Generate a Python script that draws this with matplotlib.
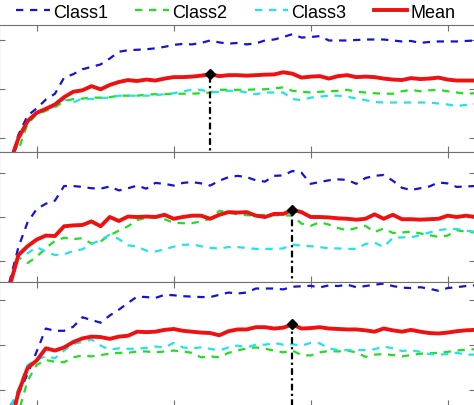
import numpy as np
import matplotlib
matplotlib.use("Agg")
import matplotlib.pyplot as plt
from matplotlib.font_manager import FontProperties

# x positions (training steps; tick labels are cropped out of the reference)
epochs = np.arange(52)
xticks = [3, 18, 33, 48]
labels = ["Class1", "Class2", "Class3", "Mean"]

# ---------------- Panel 1 ----------------
p1_class1 = [54.5, 60.6, 64.5, 66.0, 67.8, 69.0, 72.3, 73.0, 74.0, 74.5, 75.0, 76.2, 77.6, 77.9, 78.0, 78.1, 78.3,
             78.6, 79.0, 79.2, 79.1, 79.4, 79.9, 79.5, 79.25, 79.4, 79.1, 79.3, 79.9, 80.1, 80.6, 81.2, 80.5, 80.6,
             80.8, 79.9, 79.9, 79.9, 80.0, 80.1, 80.1, 80.1, 79.9, 79.7, 79.8, 79.4, 79.6, 79.7, 79.7, 79.7, 79.8, 79.9]
p1_class2 = [50.0, 57.5, 62.8, 64.8, 65.5, 66.2, 67.5, 67.9, 68.0, 68.2, 68.2, 68.3, 68.6, 68.6, 68.6, 68.8, 68.9,
             68.9, 69.0, 69.0, 69.0, 69.1, 69.25, 69.8, 69.8, 69.8, 69.8, 69.9, 69.9, 70.1, 70.3, 69.6, 69.4, 69.25,
             69.4, 69.5, 69.6, 69.8, 69.4, 69.25, 69.1, 69.0, 69.0, 69.5, 69.8, 69.5, 69.7, 69.8, 69.5, 69.25, 69.0, 69.1]
p1_class3 = [52.0, 59.7, 63.1, 65.0, 65.8, 66.4, 67.9, 67.2, 68.0, 67.9, 68.1, 68.2, 68.6, 68.6, 68.6, 68.6, 68.7,
             68.9, 69.1, 69.5, 69.8, 69.8, 69.25, 69.4, 69.6, 69.6, 69.25, 68.9, 69.25, 69.25, 69.25, 67.9, 67.7, 68.2,
             68.4, 68.6, 68.6, 68.4, 68.0, 67.7, 67.3, 67.2, 67.2, 67.2, 67.2, 67.2, 67.2, 67.0, 66.8, 66.5, 66.7, 66.9]
p1_mean = [54.4, 59.9, 63.4, 65.1, 65.9, 66.8, 68.3, 69.4, 69.7, 70.55, 69.9, 70.8, 71.4, 71.8, 71.6, 71.9, 71.7,
           72.1, 72.4, 72.4, 72.5, 72.7, 73.0, 72.6, 72.8, 72.8, 72.7, 72.8, 72.9, 72.95, 73.4, 73.1, 72.3, 72.5,
           72.6, 72.1, 72.6, 72.8, 72.4, 72.5, 72.4, 72.1, 71.9, 71.8, 72.2, 72.0, 72.1, 72.3, 71.9, 71.7, 71.7, 71.7]

# ---------------- Panel 2 ----------------
p2_class1 = [45.2, 53.2, 58.8, 61.8, 63.0, 63.7, 67.0, 67.0, 66.8, 66.5, 66.4, 66.9, 66.0, 66.5, 67.1, 66.4, 67.7,
             67.5, 67.1, 67.7, 67.9, 67.6, 67.1, 68.2, 69.0, 69.3, 69.0, 68.3, 68.0, 69.3, 69.4, 70.4, 70.0, 67.5,
             67.9, 68.3, 68.5, 68.4, 67.5, 68.8, 69.3, 69.5, 68.2, 66.6, 66.1, 66.5, 66.9, 67.8, 67.6, 66.8, 66.9, 67.0]
p2_class2 = [44.0, 50.9, 49.6, 51.0, 53.0, 54.6, 55.3, 55.0, 55.2, 54.0, 54.5, 55.9, 56.9, 57.9, 59.3, 59.8, 60.0,
             59.5, 58.7, 58.6, 58.6, 59.0, 59.6, 61.4, 61.0, 60.6, 60.4, 60.4, 60.5, 60.4, 60.4, 60.3, 58.5, 58.0,
             58.8, 58.3, 57.5, 57.0, 57.5, 58.0, 56.6, 57.4, 56.4, 56.5, 56.7, 56.3, 55.9, 55.5, 55.8, 57.0, 56.7, 56.5]
p2_class3 = [44.0, 51.3, 51.8, 53.2, 52.2, 51.4, 51.6, 52.3, 52.7, 53.9, 54.8, 56.0, 55.0, 53.6, 53.3, 52.4, 52.2,
             52.7, 53.3, 53.7, 53.8, 53.4, 53.0, 52.9, 53.2, 53.2, 53.0, 52.8, 52.8, 52.8, 52.9, 53.8, 53.5, 53.4,
             53.2, 52.9, 52.9, 52.8, 52.8, 53.9, 54.2, 53.2, 55.3, 55.4, 55.4, 55.9, 56.5, 57.0, 57.3, 57.3, 56.9, 56.7]
p2_mean = [44.1, 51.4, 53.4, 54.9, 55.8, 55.7, 57.9, 58.1, 58.2, 59.0, 57.9, 60.0, 59.1, 60.1, 60.0, 60.1, 60.0,
           60.5, 59.6, 60.0, 60.3, 60.3, 59.6, 60.5, 61.1, 61.0, 61.1, 60.3, 60.0, 60.7, 60.7, 61.6, 61.1, 60.0,
           60.0, 59.9, 59.7, 59.6, 59.4, 59.6, 60.6, 59.6, 60.5, 59.5, 59.5, 59.4, 59.5, 59.6, 60.3, 60.0, 60.3, 60.0]

# ---------------- Panel 3 ----------------
p3_class1 = [46.1, 49.0, 53.5, 58.5, 63.6, 63.1, 63.1, 64.0, 66.1, 65.5, 64.9, 66.5, 67.8, 69.3, 70.7, 70.6, 70.4,
             71.1, 71.0, 70.8, 70.7, 70.6, 70.6, 71.1, 71.6, 71.4, 71.6, 72.5, 72.5, 72.5, 72.3, 72.9, 73.0, 73.1,
             72.75, 73.2, 73.05, 73.35, 72.8, 73.05, 73.35, 73.6, 73.05, 72.7, 72.6, 72.8, 72.45, 72.0, 72.6, 72.8, 73.05, 73.2]
p3_class2 = [42.0, 44.9, 52.0, 55.5, 56.6, 56.2, 56.1, 57.2, 57.6, 57.4, 57.7, 58.0, 58.2, 58.2, 58.5, 58.5, 58.3,
             58.5, 58.7, 58.5, 58.2, 57.2, 57.4, 57.2, 58.2, 58.7, 59.2, 59.4, 59.1, 58.7, 58.3, 58.7, 57.7, 57.6,
             58.3, 58.6, 58.5, 58.7, 58.3, 57.3, 57.8, 57.9, 57.7, 57.4, 57.7, 58.0, 58.1, 58.2, 58.4, 58.7, 58.9, 59.0]
p3_class3 = [45.7, 50.1, 55.5, 56.7, 57.4, 57.0, 58.7, 60.2, 60.6, 61.2, 59.8, 58.9, 59.2, 59.1, 59.1, 59.3, 59.6,
             59.4, 60.4, 59.4, 59.2, 59.4, 59.1, 58.7, 59.4, 59.8, 59.4, 60.0, 60.0, 60.4, 60.0, 60.1, 59.8, 60.4,
             60.3, 59.2, 58.8, 58.8, 58.8, 58.8, 59.0, 59.6, 59.2, 58.6, 58.8, 58.4, 57.9, 57.8, 57.9, 58.2, 57.8, 57.8]
p3_mean = [41.2, 49.4, 54.8, 56.5, 59.2, 58.7, 59.4, 60.6, 61.4, 61.8, 61.7, 61.3, 61.8, 62.0, 62.9, 62.8, 62.9,
           63.3, 63.5, 63.1, 62.9, 62.7, 62.6, 62.1, 63.0, 63.4, 63.4, 63.9, 63.9, 63.6, 63.8, 64.5, 63.6, 63.7,
           63.9, 63.6, 63.5, 63.4, 63.4, 63.2, 62.9, 63.6, 63.2, 62.9, 63.3, 62.9, 62.6, 62.5, 62.7, 63.0, 63.2, 63.3]

# selected epoch (marker) per panel
marker_idx = [22, 31, 31]

panels = [
    (p1_class1, p1_class2, p1_class3, p1_mean, (57.07, 83.07), [60, 70, 80]),
    (p2_class1, p2_class2, p2_class3, p2_mean, (45.31, 74.69), [50, 60, 70]),
    (p3_class1, p3_class2, p3_class3, p3_mean, (46.37, 73.95), [50, 60, 70]),
]

# axes boxes in pixels (top, bottom) of the 474x406 canvas
W, H = 474.0, 406.0
boxes = [(26, 153), (153, 283), (283, 407)]
left_px, right_px = -1.0, 475.0
xlim = (-1.128, 51.0)

colors = ["#1414d2", "#22dd22", "#22e4e4", "#ee1111"]
dash = (0, (3.3, 3.0))
gray = "#707070"

fig = plt.figure(figsize=(W / 100, H / 100), dpi=100)
handles = None
for k, ((c1, c2, c3, mn, ylim, yt), (top, bot)) in enumerate(zip(panels, boxes)):
    ax = fig.add_axes([left_px / W, 1 - bot / H, (right_px - left_px) / W, (bot - top) / H])
    l1, = ax.plot(epochs, c1, color=colors[0], lw=1.6, linestyle=dash)
    l2, = ax.plot(epochs, c2, color=colors[1], lw=1.6, linestyle=dash)
    l3, = ax.plot(epochs, c3, color=colors[2], lw=1.6, linestyle=dash)
    l4, = ax.plot(epochs, mn, color=colors[3], lw=2.8)
    mi = marker_idx[k]
    ax.plot([epochs[mi], epochs[mi]], [ylim[0] - 5, mn[mi]], color="black", lw=1.6,
            linestyle=(0, (3, 1.5, 1, 1.5)), zorder=5)
    ax.plot([epochs[mi]], [mn[mi]], marker="D", ms=5.5, color="black", zorder=6)
    if handles is None:
        handles = [l1, l2, l3, l4]
    ax.set_xlim(*xlim)
    ax.set_ylim(*ylim)
    ax.set_xticks(xticks)
    ax.set_yticks(yt)
    ax.set_xticklabels([])
    ax.set_yticklabels([])
    ax.tick_params(direction="in", length=4, width=0.8, color=gray,
                   top=True, right=True, bottom=True, left=True)
    for s in ax.spines.values():
        s.set_color(gray)
        s.set_linewidth(0.8)

font = FontProperties(family="Liberation Sans", size=13)
fig.legend(handles, labels, loc="center", bbox_to_anchor=(236 / W, 1 - 13 / H), ncol=4,
           frameon=False, handlelength=1.85, handletextpad=0.2, columnspacing=1.5,
           prop=font, borderpad=0, borderaxespad=0)

fig.savefig("out.png", dpi=100)
